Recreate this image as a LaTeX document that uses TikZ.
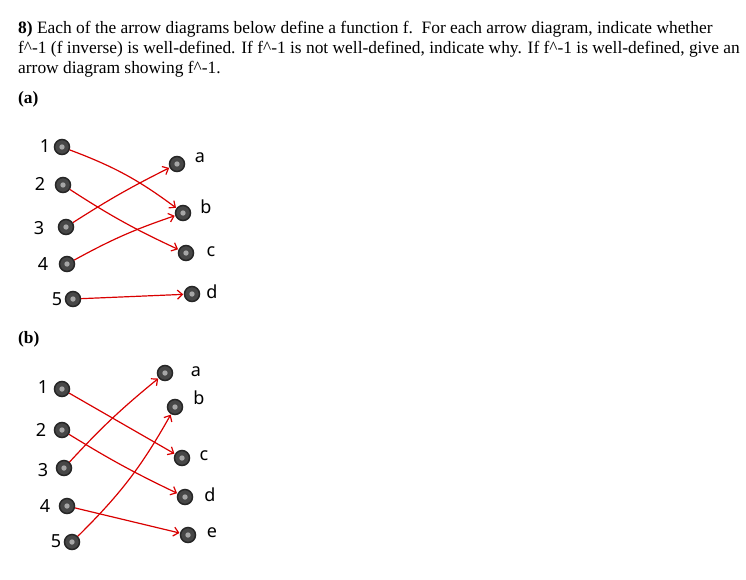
\documentclass[tikz,border=0pt]{standalone}
\usepackage{fontspec}
\setmainfont{Liberation Serif}
\newfontfamily\hand{Noto Sans}
\usetikzlibrary{arrows.meta}

\begin{document}
\begin{tikzpicture}[x=1pt,y=-1pt,
  dot/.style={circle,fill=black!72,draw=black!85,line width=1.5pt,minimum size=15pt,inner sep=0pt,
    path picture={\fill[black!35] (path picture bounding box.center) circle (2.7pt);}},
  lbl/.style={font=\hand\fontsize{18}{18}\selectfont},
  map/.style={draw=red!85!black,line width=1.2pt,-{Straight Barb[length=5pt,width=9pt]},shorten >=0.5pt}]

\useasboundingbox (0,0) rectangle (746,579);

\node[anchor=north west,align=left,inner sep=0pt,font=\fontsize{17.4}{20}\selectfont] (task) at (18,21)
  {\textbf{8)} Each of the arrow diagrams below define a function f.\ \ For each arrow diagram, indicate whether\\
   f\^{}-1 (f inverse) is well-defined. If f\^{}-1 is not well-defined, indicate why. If f\^{}-1 is well-defined, give an\\
   arrow diagram showing f\^{}-1.};

% (a)
\node[anchor=west,inner sep=0pt,font=\bfseries\fontsize{17.4}{20}\selectfont] (parta) at (18,99) {(a)};

\node[dot] (a1) at (62,147) {};
\node[dot] (a2) at (63,185) {};
\node[dot] (a3) at (66,227) {};
\node[dot] (a4) at (67,264) {};
\node[dot] (a5) at (73,299) {};
\node[lbl] at (45,146) {1};
\node[lbl] at (40,184) {2};
\node[lbl] at (39,228) {3};
\node[lbl] at (43,264) {4};
\node[lbl] at (57,299) {5};

\node[dot] (aa) at (177,164) {};
\node[dot] (ab) at (183,213) {};
\node[dot] (ac) at (186,253) {};
\node[dot] (ad) at (192,294) {};
\node[lbl] at (200,158) {a};
\node[lbl] at (206,207) {b};
\node[lbl] at (211,252) {c};
\node[lbl] at (212,292) {d};

\draw[map] (a1) to[bend left=8] (ab);
\draw[map] (a2) to[bend right=4] (ac);
\draw[map] (a3) to[bend left=3] (aa);
\draw[map] (a4) to[bend left=5] (ab);
\draw[map] (a5) -- (ad);

% (b)
\node[anchor=west,inner sep=0pt,font=\bfseries\fontsize{17.4}{20}\selectfont] (partb) at (18,339) {(b)};

\node[dot] (b1) at (62,389) {};
\node[dot] (b2) at (62,430) {};
\node[dot] (b3) at (64,468) {};
\node[dot] (b4) at (67,506) {};
\node[dot] (b5) at (72,542) {};
\node[lbl] at (43,387) {1};
\node[lbl] at (41,430) {2};
\node[lbl] at (43,470) {3};
\node[lbl] at (45,506) {4};
\node[lbl] at (56,541) {5};

\node[dot] (ba) at (165,373) {};
\node[dot] (bb) at (175,407) {};
\node[dot] (bc) at (182,458) {};
\node[dot] (bd) at (185,497) {};
\node[dot] (be) at (188,535) {};
\node[lbl] at (196,372) {a};
\node[lbl] at (199,398) {b};
\node[lbl] at (204,456) {c};
\node[lbl] at (210,495) {d};
\node[lbl] at (212,533) {e};

\draw[map] (b1) -- (bc);
\draw[map] (b2) to[bend right=3] (bd);
\draw[map] (b3) to[bend left=4] (ba);
\draw[map] (b4) -- (be);
\draw[map] (b5) to[bend right=8] (bb);
\end{tikzpicture}
\end{document}
